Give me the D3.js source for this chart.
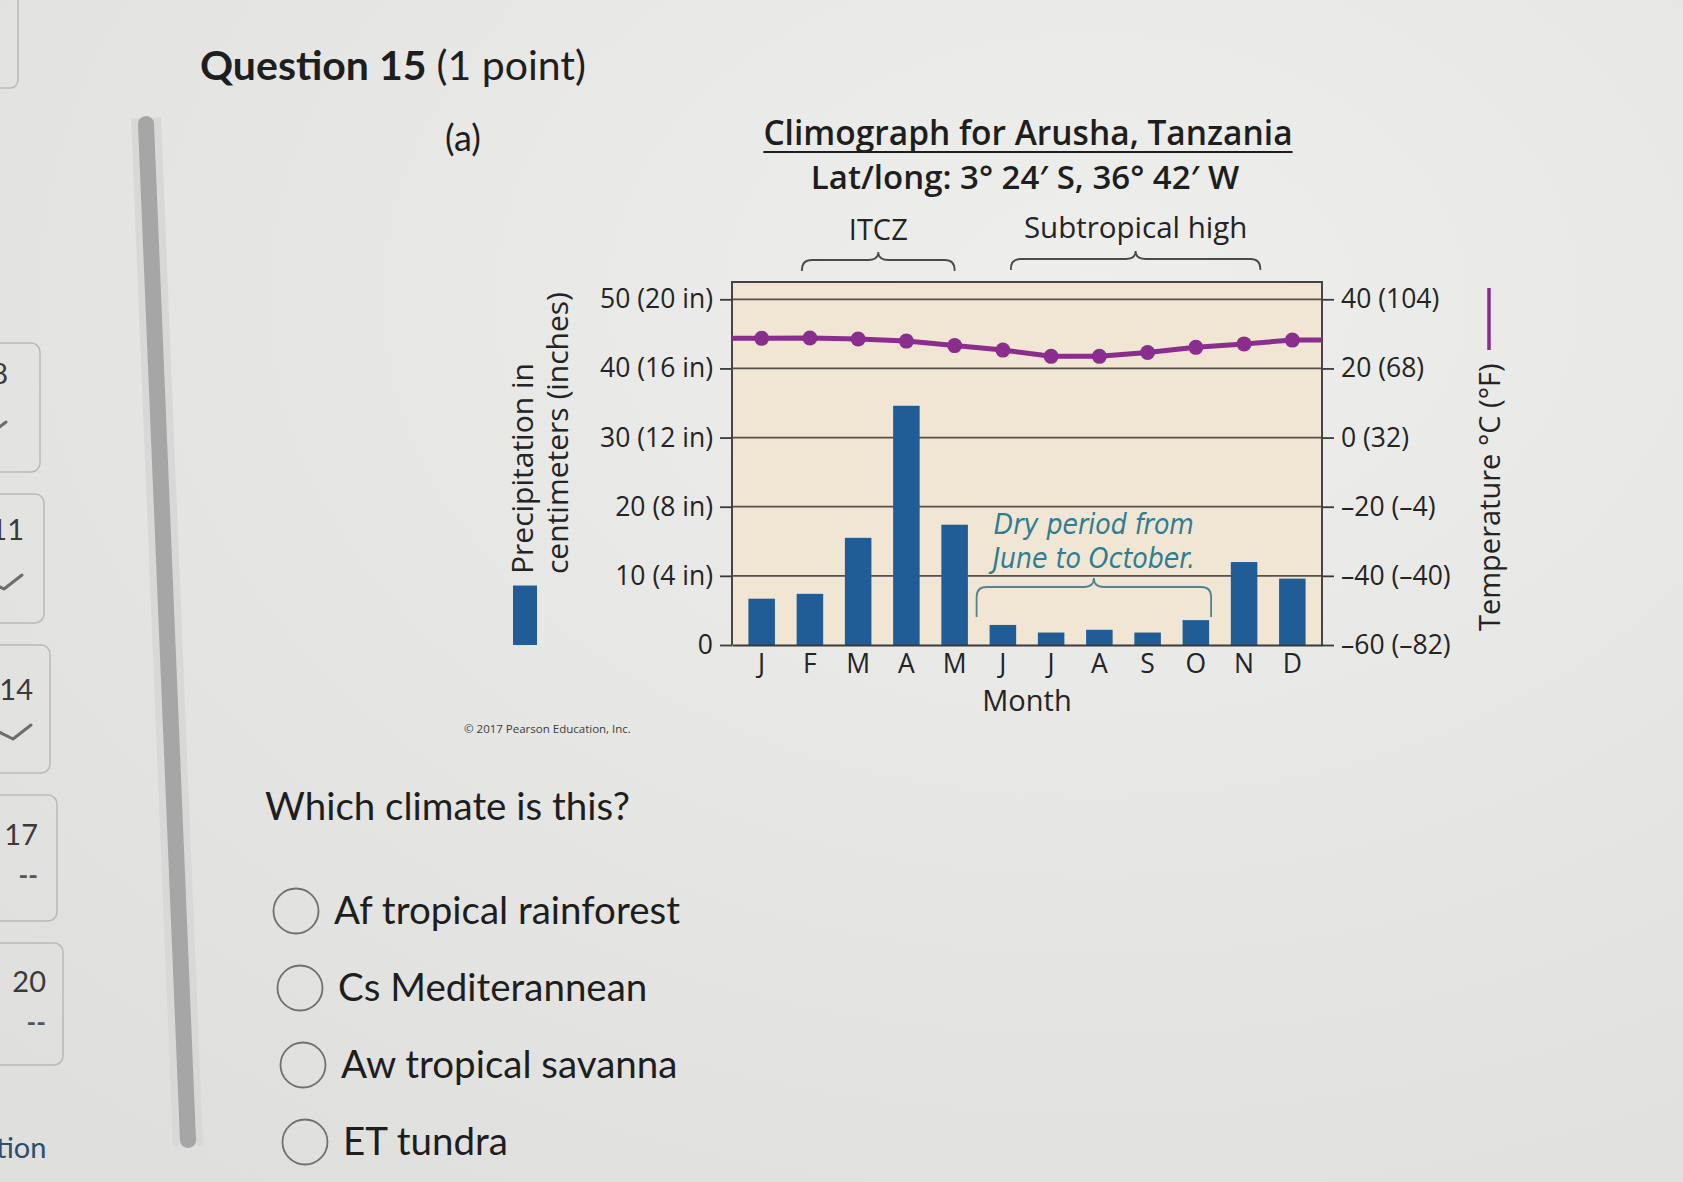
<!DOCTYPE html>
<html>
<head>
<meta charset="utf-8">
<script src="https://cdn.jsdelivr.net/npm/d3@7"></script>
<style>
  html, body { margin: 0; padding: 0; background: #e6e6e4; }
  svg { display: block; }
</style>
</head>
<body>
<div id="page"></div>
<script>
// chart data
const monthKeys = ["Jan", "Feb", "Mar", "Apr", "May", "Jun", "Jul", "Aug", "Sep", "Oct", "Nov", "Dec"];
const monthLabels = ["J", "F", "M", "A", "M", "J", "J", "A", "S", "O", "N", "D"];
const precipCm = [6.7, 7.4, 15.5, 34.6, 17.4, 2.9, 1.8, 2.2, 1.8, 3.6, 12.0, 9.6];
const tempC = [28.7, 28.8, 28.5, 27.9, 26.6, 25.3, 23.5, 23.5, 24.6, 26.1, 27.1, 28.2];
const precipTicks = [0, 10, 20, 30, 40, 50];
const precipTickLabels = ["0", "10 (4 in)", "20 (8 in)", "30 (12 in)", "40 (16 in)", "50 (20 in)"];
const tempTicks = [-60, -40, -20, 0, 20, 40];
const tempTickLabels = ["–60 (–82)", "–40 (–40)", "–20 (–4)", "0 (32)", "20 (68)", "40 (104)"];
const answerOptions = ["Af tropical rainforest", "Cs Mediterannean", "Aw tropical savanna", "ET tundra"];
const sideNumbers = ["8", "11", "14", "17", "20"];
const sideMarks = ["check", "check", "check", "dash", "dash"];

const W = 1683, H = 1182;
const chartFont = "'Open Sans', 'Noto Sans', sans-serif";
const pageFont = "Lato, 'Open Sans', sans-serif";
const barColor = "#205d97";
const tempColor = "#8a2d8c";
const inkColor = "#242424";

const svg = d3.select("#page").append("svg")
    .attr("width", W)
    .attr("height", H);

// photo-ish page background
const defs = svg.append("defs");
const bg = defs.append("radialGradient").attr("id", "bg")
    .attr("cx", "65%").attr("cy", "25%").attr("r", "90%");
bg.append("stop").attr("offset", "0%").attr("stop-color", "#eeeeec");
bg.append("stop").attr("offset", "100%").attr("stop-color", "#dfdfdd");
svg.append("rect").attr("width", W).attr("height", H).attr("fill", "url(#bg)");

// ---------- left side navigation ----------
const nav = svg.append("g");
nav.append("rect")
    .attr("x", -12).attr("y", -12).attr("width", 30).attr("height", 100)
    .attr("rx", 8).attr("fill", "none").attr("stroke", "#b9b9b9").attr("stroke-width", 1.5);

const navBoxes = [
    { y: 343, h: 129, r: 40, textEnd: 8, textY: 384, markY: 432 },
    { y: 494, h: 129, r: 44, textEnd: 24, textY: 540, markY: 585 },
    { y: 645, h: 128, r: 50, textEnd: 33, textY: 700, markY: 735 },
    { y: 795, h: 126, r: 57, textEnd: 38, textY: 845, markY: 885 },
    { y: 943, h: 122, r: 63, textEnd: 46, textY: 992, markY: 1032 }
];
navBoxes.forEach((b, i) => {
    nav.append("rect")
        .attr("x", -12).attr("y", b.y).attr("width", b.r + 12).attr("height", b.h)
        .attr("rx", 9).attr("fill", "none").attr("stroke", "#b9b9b9").attr("stroke-width", 1.5);
    nav.append("text")
        .attr("x", b.textEnd).attr("y", b.textY)
        .attr("text-anchor", "end")
        .style("font-family", pageFont).style("font-size", "29px").style("fill", "#3a3a3a")
        .text(sideNumbers[i]);
    if (sideMarks[i] === "check") {
        const cx = b.textEnd - 14;
        nav.append("path")
            .attr("d", `M${cx - 22},${b.markY - 4} L${cx - 6},${b.markY + 4} L${cx + 12},${b.markY - 10}`)
            .attr("fill", "none").attr("stroke", "#6d6d6d").attr("stroke-width", 3)
            .attr("stroke-linecap", "round").attr("stroke-linejoin", "round");
    } else {
        nav.append("text")
            .attr("x", b.textEnd).attr("y", b.markY)
            .attr("text-anchor", "end")
            .style("font-family", pageFont).style("font-size", "26px").style("font-weight", 700)
            .style("fill", "#555")
            .text("--");
    }
});
nav.append("text")
    .attr("x", -4).attr("y", 1158)
    .style("font-family", pageFont).style("font-size", "29px").style("fill", "#2d4e6d")
    .text("tion");

// scrollbar
svg.append("line")
    .attr("x1", 146).attr("y1", 118).attr("x2", 188).attr("y2", 1146)
    .attr("stroke", "#d8d8d6").attr("stroke-width", 30);
svg.append("line")
    .attr("x1", 146).attr("y1", 124).attr("x2", 188).attr("y2", 1140)
    .attr("stroke", "#a6a6a6").attr("stroke-width", 16).attr("stroke-linecap", "round");

// ---------- question text ----------
const q = svg.append("text").attr("x", 200).attr("y", 80)
    .style("font-family", pageFont).style("font-size", "41px").style("fill", "#1e1e1e");
q.append("tspan").style("font-weight", 700).text("Question 15 ");
q.append("tspan").style("font-weight", 400).text("(1 point)");

svg.append("text").attr("x", 445).attr("y", 151)
    .style("font-family", pageFont).style("font-size", "36px").style("fill", "#1e1e1e")
    .text("(a)");

// ---------- climograph ----------
const plot = { left: 732, right: 1322, top: 282, bottom: 645 };

const x = d3.scaleBand()
    .domain(monthKeys)
    .range([plot.left, plot.right])
    .paddingInner(0.45)
    .paddingOuter(0.34);

const yP = d3.scaleLinear().domain([0, 52.5]).range([plot.bottom, plot.top]);
const yT = d3.scaleLinear().domain([-60, 45]).range([plot.bottom, plot.top]);

const g = svg.append("g");

g.append("rect")
    .attr("x", plot.left).attr("y", plot.top)
    .attr("width", plot.right - plot.left).attr("height", plot.bottom - plot.top)
    .attr("fill", "#f1e6d4");

// gridlines shared by both scales
g.selectAll(".grid")
    .data(precipTicks.filter(d => d > 0))
    .enter().append("line")
    .attr("class", "grid")
    .attr("x1", plot.left).attr("x2", plot.right)
    .attr("y1", d => yP(d)).attr("y2", d => yP(d))
    .attr("stroke", "#55504c").attr("stroke-width", 1.8);

// frame
g.append("path")
    .attr("d", `M${plot.left},${plot.bottom} V${plot.top} H${plot.right} V${plot.bottom}`)
    .attr("fill", "none").attr("stroke", "#4a4448").attr("stroke-width", 2);

// bars
g.selectAll(".bar")
    .data(monthKeys)
    .enter().append("rect")
    .attr("class", "bar")
    .attr("x", d => x(d))
    .attr("width", x.bandwidth())
    .attr("y", (d, i) => yP(precipCm[i]))
    .attr("height", (d, i) => yP(0) - yP(precipCm[i]))
    .attr("fill", barColor);

// axes
const axisLeft = g.append("g")
    .attr("transform", `translate(${plot.left},0)`)
    .call(d3.axisLeft(yP).tickValues(precipTicks).tickSize(12).tickPadding(7)
        .tickFormat((d, i) => precipTickLabels[i]));

const axisRight = g.append("g")
    .attr("transform", `translate(${plot.right},0)`)
    .call(d3.axisRight(yT).tickValues(tempTicks).tickSize(12).tickPadding(7)
        .tickFormat((d, i) => tempTickLabels[i]));

const axisBottom = g.append("g")
    .attr("transform", `translate(0,${plot.bottom})`)
    .call(d3.axisBottom(x).tickSize(0).tickPadding(9)
        .tickFormat((d, i) => monthLabels[i]));

[axisLeft, axisRight].forEach(a => a.select(".domain").remove());
axisBottom.select(".domain").attr("stroke", "#3a3a3a").attr("stroke-width", 2.2);
[axisLeft, axisRight, axisBottom].forEach(a => {
    a.selectAll(".tick line").attr("stroke", "#3a3a3a").attr("stroke-width", 1.8);
    a.selectAll("text")
        .style("font-family", chartFont)
        .style("font-size", "26.5px")
        .style("fill", inkColor);
});

// temperature line, carried to both edges of the plot
const tempPts = [{ px: plot.left, t: tempC[0] }]
    .concat(monthKeys.map((m, i) => ({ px: x(m) + x.bandwidth() / 2, t: tempC[i] })))
    .concat([{ px: plot.right, t: tempC[tempC.length - 1] }]);

g.append("path")
    .datum(tempPts)
    .attr("d", d3.line().x(d => d.px).y(d => yT(d.t)))
    .attr("fill", "none")
    .attr("stroke", tempColor)
    .attr("stroke-width", 5);

g.selectAll(".tdot")
    .data(monthKeys)
    .enter().append("circle")
    .attr("class", "tdot")
    .attr("cx", d => x(d) + x.bandwidth() / 2)
    .attr("cy", (d, i) => yT(tempC[i]))
    .attr("r", 7.5)
    .attr("fill", tempColor);

// curly brackets
function bracket(x0, x1, yLine, tipLen, peakLen) {
    const r = 10, mid = (x0 + x1) / 2;
    const tip = yLine + tipLen;
    const peak = yLine - peakLen;
    return `M${x0},${tip} V${yLine + r} Q${x0},${yLine} ${x0 + r},${yLine} H${mid - r} Q${mid},${yLine} ${mid},${peak}` +
        ` Q${mid},${yLine} ${mid + r},${yLine} H${x1 - r} Q${x1},${yLine} ${x1},${yLine + r} V${tip}`;
}
const center = k => x(k) + x.bandwidth() / 2;

const itczX0 = center("Feb") - 8, itczX1 = center("May");
const subX0 = center("Jun") + 8, subX1 = x("Nov") + x.bandwidth() + 3;
g.append("path")
    .attr("d", bracket(itczX0, itczX1, 260, 11, 8))
    .attr("fill", "none").attr("stroke", "#4a4a4a").attr("stroke-width", 1.8);
g.append("path")
    .attr("d", bracket(subX0, subX1, 259, 11, 8))
    .attr("fill", "none").attr("stroke", "#4a4a4a").attr("stroke-width", 1.8);

g.append("text")
    .attr("x", (itczX0 + itczX1) / 2).attr("y", 240)
    .attr("text-anchor", "middle")
    .style("font-family", chartFont).style("font-size", "29px").style("fill", inkColor)
    .text("ITCZ");
g.append("text")
    .attr("x", (subX0 + subX1) / 2).attr("y", 238)
    .attr("text-anchor", "middle")
    .style("font-family", chartFont).style("font-size", "29.5px").style("fill", inkColor)
    .text("Subtropical high");

// dry period note
const dryX0 = x("Jun") - 13, dryX1 = x("Oct") + x.bandwidth() + 2;
g.append("path")
    .attr("d", bracket(dryX0, dryX1, 587, 30, 9))
    .attr("fill", "none").attr("stroke", "#4d8592").attr("stroke-width", 1.8);
const dry = g.append("text")
    .attr("x", (dryX0 + dryX1) / 2).attr("y", 534)
    .attr("text-anchor", "middle")
    .style("font-family", "'Liberation Sans Narrow', 'DejaVu Sans Condensed', 'Open Sans', sans-serif")
    .style("font-stretch", "condensed")
    .style("font-style", "italic")
    .style("font-size", "28px")
    .style("fill", "#2f7d92");
dry.append("tspan").attr("x", (dryX0 + dryX1) / 2).text("Dry period from");
dry.append("tspan").attr("x", (dryX0 + dryX1) / 2).attr("dy", 34).text("June to October.");

// titles
const title = g.append("text")
    .attr("x", 1028).attr("y", 145)
    .attr("text-anchor", "middle")
    .style("font-family", chartFont).style("font-size", "33.5px").style("font-weight", 600)
    .style("fill", "#1e1e1e")
    .text("Climograph for Arusha, Tanzania");
const tw = title.node().getComputedTextLength();
g.append("line")
    .attr("x1", 1028 - tw / 2).attr("x2", 1028 + tw / 2)
    .attr("y1", 152).attr("y2", 152)
    .attr("stroke", "#1e1e1e").attr("stroke-width", 2);

g.append("text")
    .attr("x", 1025).attr("y", 189)
    .attr("text-anchor", "middle")
    .style("font-family", chartFont).style("font-size", "33px").style("font-weight", 600)
    .style("fill", "#1e1e1e")
    .text("Lat/long: 3° 24′ S, 36° 42′ W");

g.append("text")
    .attr("x", (plot.left + plot.right) / 2).attr("y", 711)
    .attr("text-anchor", "middle")
    .style("font-family", chartFont).style("font-size", "29px").style("fill", inkColor)
    .text("Month");

// left legend: swatch + rotated title
g.append("rect")
    .attr("x", 513).attr("y", yP(8.6)).attr("width", 24).attr("height", yP(0) - yP(8.6))
    .attr("fill", barColor);
const leftTitle = g.append("text")
    .attr("transform", `translate(0,574) rotate(-90)`)
    .style("font-family", chartFont).style("font-size", "30px").style("fill", inkColor);
leftTitle.append("tspan").attr("x", 0).attr("y", 533).text("Precipitation in");
leftTitle.append("tspan").attr("x", 0).attr("y", 568).text("centimeters (inches)");

// right legend: rotated title + line sample
g.append("text")
    .attr("transform", `translate(1500,631) rotate(-90)`)
    .style("font-family", chartFont).style("font-size", "29px").style("fill", inkColor)
    .text("Temperature °C (°F)");
g.append("line")
    .attr("x1", 1489).attr("x2", 1489).attr("y1", 288).attr("y2", 350)
    .attr("stroke", tempColor).attr("stroke-width", 3.5);

g.append("text")
    .attr("x", 464).attr("y", 733)
    .style("font-family", "'Liberation Sans Narrow', 'Open Sans', sans-serif")
    .style("font-size", "11.5px").style("fill", "#3c3c3c")
    .text("© 2017 Pearson Education, Inc.");

// ---------- question & answers ----------
svg.append("text").attr("x", 265).attr("y", 820)
    .style("font-family", pageFont).style("font-size", "38.5px").style("fill", "#1e1e1e")
    .text("Which climate is this?");

const optY = [911, 988, 1065, 1142];
const optX = [296, 300, 303, 305];
const opts = svg.selectAll(".opt")
    .data(answerOptions)
    .enter().append("g")
    .attr("class", "opt")
    .attr("transform", (d, i) => `translate(${optX[i]},${optY[i]})`);
opts.append("circle")
    .attr("r", 22.5)
    .attr("fill", "none").attr("stroke", "#707070").attr("stroke-width", 1.8);
opts.append("text")
    .attr("x", 38).attr("y", 13)
    .style("font-family", pageFont).style("font-size", "38.5px").style("fill", "#1e1e1e")
    .text(d => d);
</script>
</body>
</html>
